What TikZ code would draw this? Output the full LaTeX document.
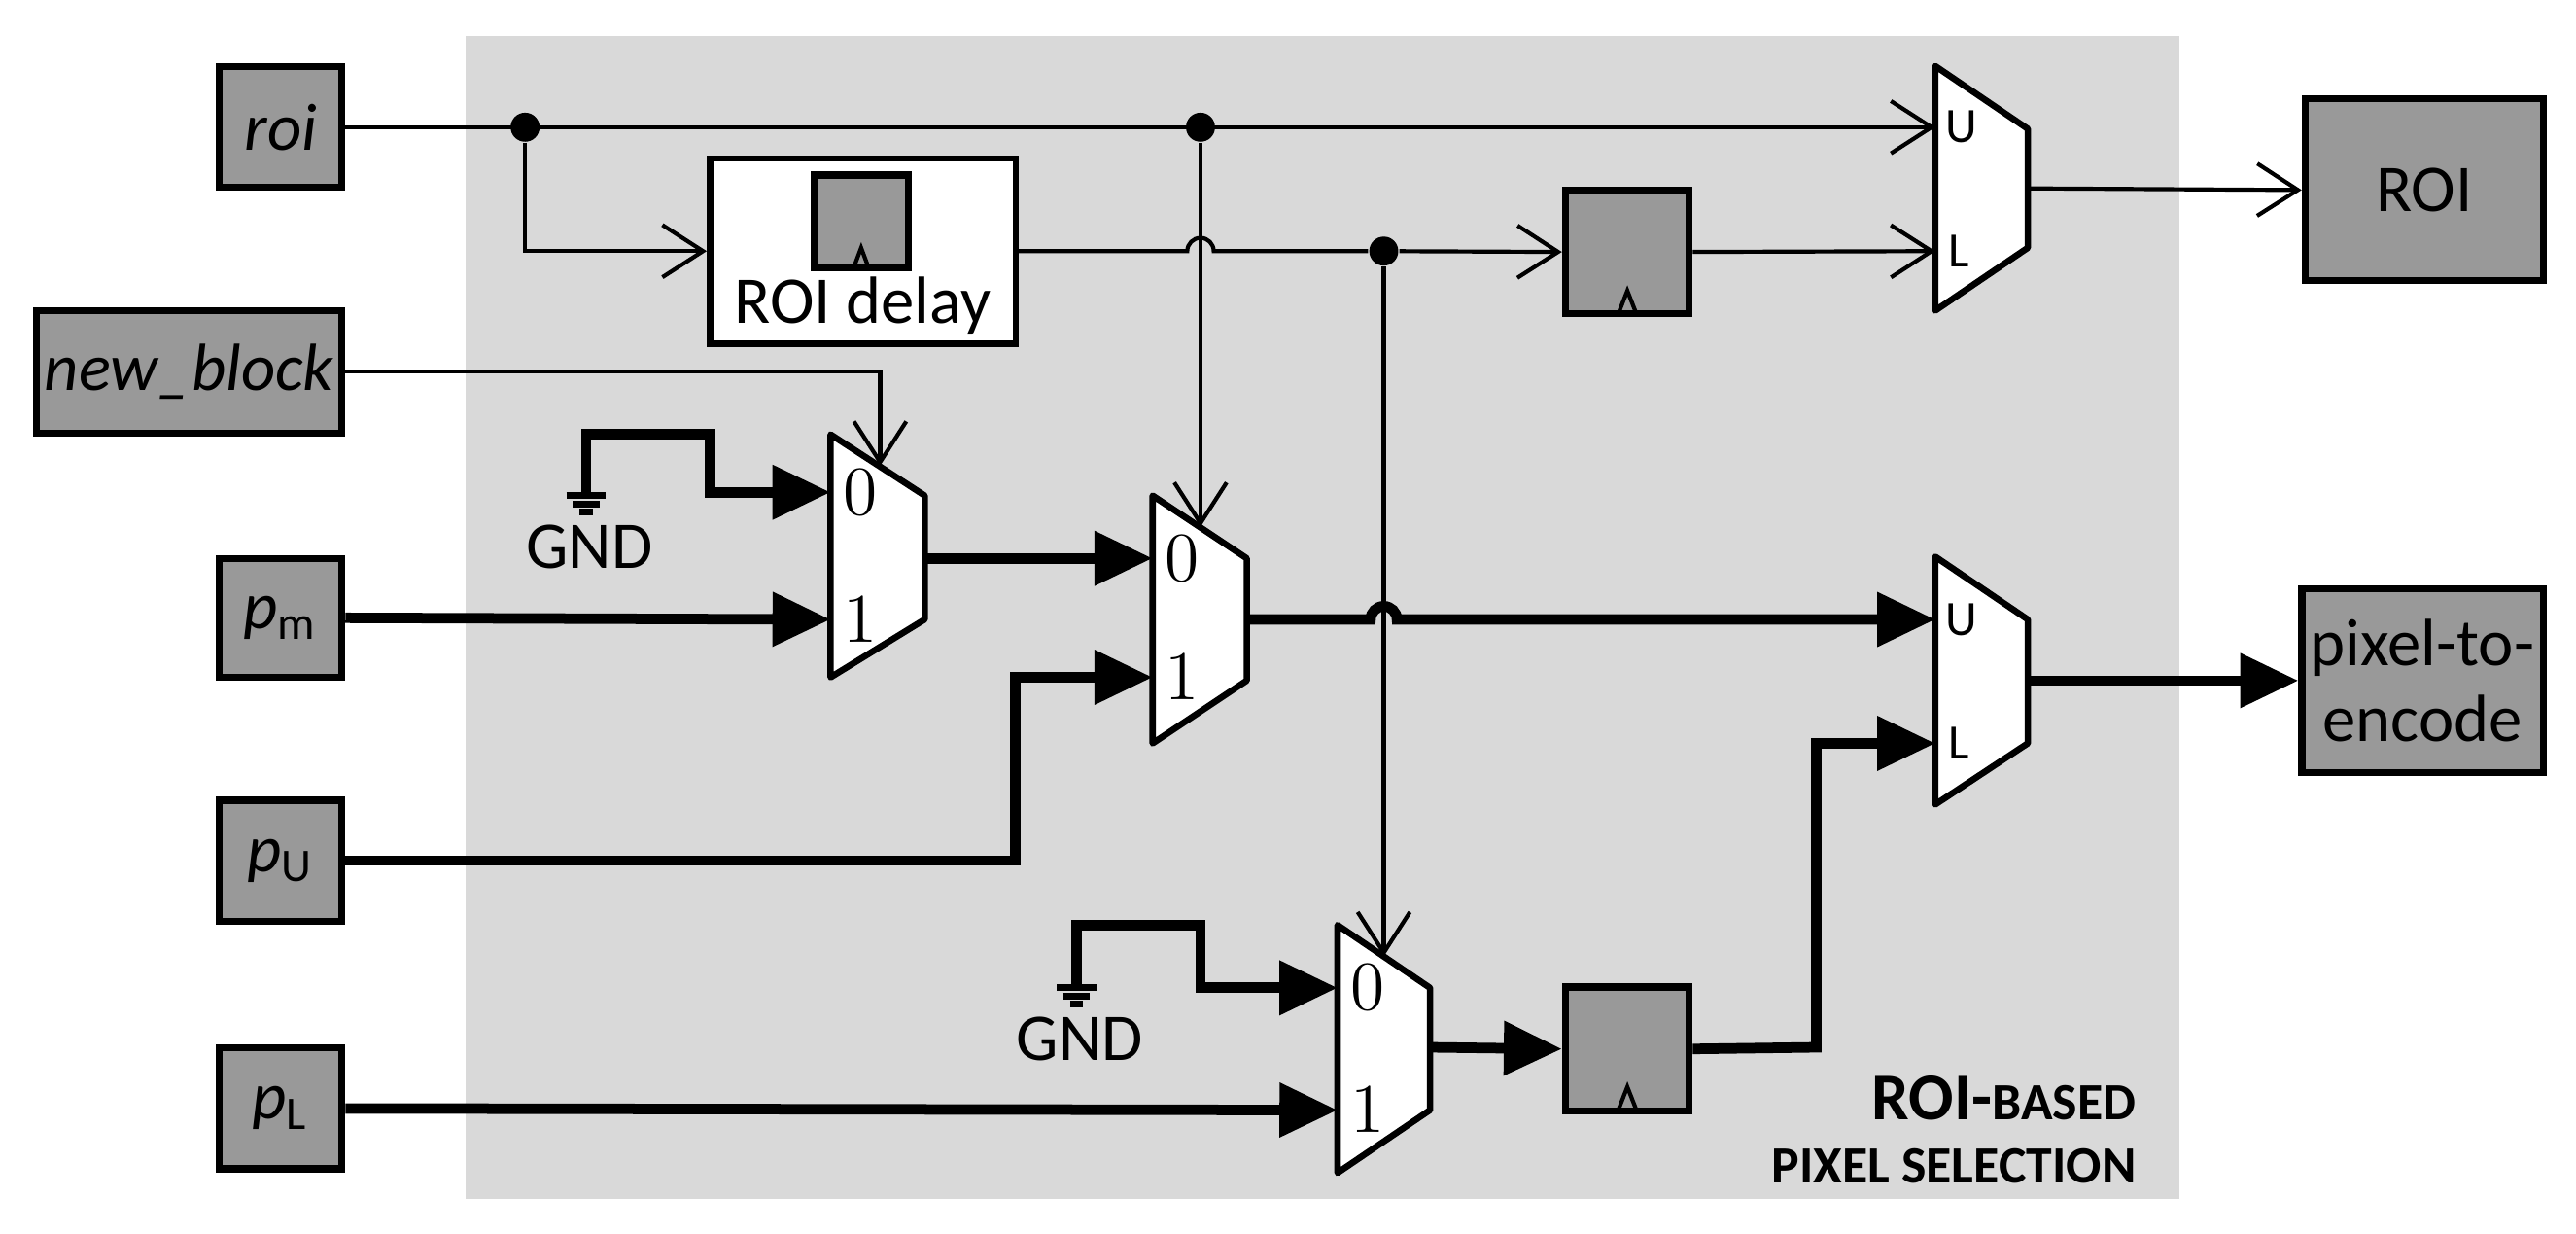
\documentclass[tikz,border=0pt]{standalone}
\usepackage{fontspec}
\setmainfont{Carlito}
\usetikzlibrary{arrows.meta}
\begin{document}
\begin{tikzpicture}[x=0.01cm,y=-0.01cm,
  thin wire/.style={line width=0.7pt,-{Straight Barb[length=7pt,width=9pt]}},
  thick wire/.style={line width=1.8pt,-{Triangle[length=10pt,width=9pt]}},
  plain thin/.style={line width=0.7pt},
  plain thick/.style={line width=1.8pt},
  io/.style={draw,line width=1.2pt,fill=black!40,inner sep=0pt,font=\fontsize{11.5}{13}\selectfont},
  ff/.style={draw,line width=1.2pt,fill=black!40,minimum width=0.75cm,minimum height=0.75cm,inner sep=0pt},
  mux/.style={draw,line width=1.1pt,fill=white,line join=round},
  pin/.style={font=\fontsize{8.5}{10}\selectfont},
  dot/.style={circle,fill,inner sep=0pt,minimum size=5pt}]
\useasboundingbox (0,0) rectangle (1560,747);
\fill[black!15] (282,22) rectangle (1320,726);

% input and output boxes
\node[io,minimum width=0.74cm,minimum height=0.73cm] (roi) at (170,77) {\itshape roi};
\node[io,minimum width=1.85cm,minimum height=0.74cm] (nb) at (114.5,225) {\itshape new\_block};
\node[io,minimum width=0.74cm,minimum height=0.72cm] (pm) at (170,374) {\itshape p\textsubscript{\upshape m}};
\node[io,minimum width=0.74cm,minimum height=0.73cm] (pu) at (170,521) {\itshape p\textsubscript{\upshape U}};
\node[io,minimum width=0.74cm,minimum height=0.73cm] (pl) at (170,671) {\itshape p\textsubscript{\upshape L}};
\node[io,minimum width=1.44cm,minimum height=1.1cm] (ROI) at (1468,115) {ROI};
\node[io,minimum width=1.46cm,minimum height=1.11cm,align=center] (pix) at (1467,412) {pixel-to-\\encode};

% ROI delay block
\node[draw,line width=1.1pt,fill=white,minimum width=1.85cm,minimum height=1.12cm] (dly) at (522.5,152) {};
\node[ff,minimum width=0.57cm,minimum height=0.56cm] (dlyff) at (521.5,134) {};
\draw[plain thin] (517,162) -- (521.5,150) -- (526,162);
\node[font=\fontsize{11.5}{13}\selectfont] (dlytxt) at (522.5,185) {ROI delay};

% flip-flops
\node[ff] (ff1) at (985.5,152.5) {};
\draw[plain thin] (980,190) -- (985.5,176) -- (991,190);
\node[ff] (ff2) at (985.5,635) {};
\draw[plain thin] (980,672) -- (985.5,658) -- (991,672);

% multiplexers
\draw[mux] (1172,40) -- (1172,188) -- (1228,150) -- (1228,78) -- cycle;
\draw[mux] (1172,337) -- (1172,487) -- (1228,450) -- (1228,375) -- cycle;
\draw[mux] (503,263) -- (503,410) -- (560,375) -- (560,300) -- cycle;
\draw[mux] (698,300) -- (698,450) -- (755,412) -- (755,338) -- cycle;
\draw[mux] (810,560) -- (810,710) -- (866,672) -- (866,598) -- cycle;
\node[pin] (uA) at (1188,77) {U};
\node[pin] (lA) at (1186,152) {L};
\node[pin] (uB) at (1188,375) {U};
\node[pin] (lB) at (1186,450) {L};
\node[pin] (m10) at (521,298) {\large$0$};
\node[pin] (m11) at (521,375) {\large$1$};
\node[pin] (m20) at (716,338) {\large$0$};
\node[pin] (m21) at (716,410) {\large$1$};
\node[pin] (m30) at (828,598) {\large$0$};
\node[pin] (m31) at (828,672) {\large$1$};

% pin coordinates
\coordinate (muxAu) at (1172,77);
\coordinate (muxAl) at (1172,152);
\coordinate (muxAo) at (1228,114);
\coordinate (muxBu) at (1172,375);
\coordinate (muxBl) at (1172,450);
\coordinate (muxBo) at (1228,412);
\coordinate (mux1s) at (533,282);
\coordinate (mux1a) at (503,298);
\coordinate (mux1b) at (503,375);
\coordinate (mux1o) at (560,338);
\coordinate (mux2s) at (727,319);
\coordinate (mux2a) at (698,338);
\coordinate (mux2b) at (698,410);
\coordinate (mux2o) at (755,375);
\coordinate (mux3s) at (838,579);
\coordinate (mux3a) at (810,598);
\coordinate (mux3b) at (810,672);
\coordinate (mux3o) at (866,634);
\node[dot] (j1) at (318,77) {};
\node[dot] (j2) at (727,77) {};
\node[dot] (j3) at (838,152) {};

% thin (ROI) wires
\draw[thin wire] (roi.east) -- (muxAu);
\draw[thin wire] (j1) |- (dly.west);
\draw[plain thin] (dly.east) -- (719,152) arc[start angle=180,end angle=360,radius=8] -- (j3);
\draw[thin wire] (j3) -- (ff1.west);
\draw[thin wire] (ff1.east) -- (muxAl);
\draw[thin wire] (muxAo) -- (ROI.west);
\draw[thin wire] (nb.east) -| (mux1s);
\draw[thin wire] (j2) -- (mux2s);
\draw[thin wire] (j3) -- (mux3s);

% ground symbols
\foreach \gx/\gy in {355/300,652/598}{
  \draw[line width=1.2pt] (\gx-12,\gy) -- (\gx+12,\gy);
  \draw[line width=1.2pt] (\gx-8,\gy+5) -- (\gx+8,\gy+5);
  \draw[line width=1.2pt] (\gx-4,\gy+10) -- (\gx+4,\gy+10);
}
\coordinate (g1) at (355,300);
\coordinate (g2) at (652,598);
\node[font=\fontsize{11.5}{13}\selectfont] (gnd1) at (357,331) {GND};
\node[font=\fontsize{11.5}{13}\selectfont] (gnd2) at (654,629) {GND};

% thick (pixel) wires
\draw[thick wire] (g1) -- (355,263) -- (430,263) -- (430,298) -- (mux1a);
\draw[thick wire] (pm.east) -- (mux1b);
\draw[thick wire] (mux1o) -- (mux2a);
\draw[thick wire] (pu.east) -- (615,521) -- (615,410) -- (mux2b);
\draw[thick wire] (mux2o) -- (830,375) arc[start angle=180,end angle=360,radius=8] -- (muxBu);
\draw[thick wire] (g2) -- (652,560) -- (727,560) -- (727,598) -- (mux3a);
\draw[thick wire] (pl.east) -- (mux3b);
\draw[thick wire] (mux3o) -- (ff2.west);
\draw[thick wire] (ff2.east) -- (1100,634) -- (1100,450) -- (muxBl);
\draw[thick wire] (muxBo) -- (pix.west);

% panel title
\node[anchor=east,font=\bfseries\fontsize{11.5}{13}\selectfont] (t1) at (1306,665) {ROI-{\fontsize{9}{11}\selectfont BASED}};
\node[anchor=east,font=\bfseries\fontsize{9}{11}\selectfont] (t2) at (1306,706) {PIXEL SELECTION};
\end{tikzpicture}
\end{document}
